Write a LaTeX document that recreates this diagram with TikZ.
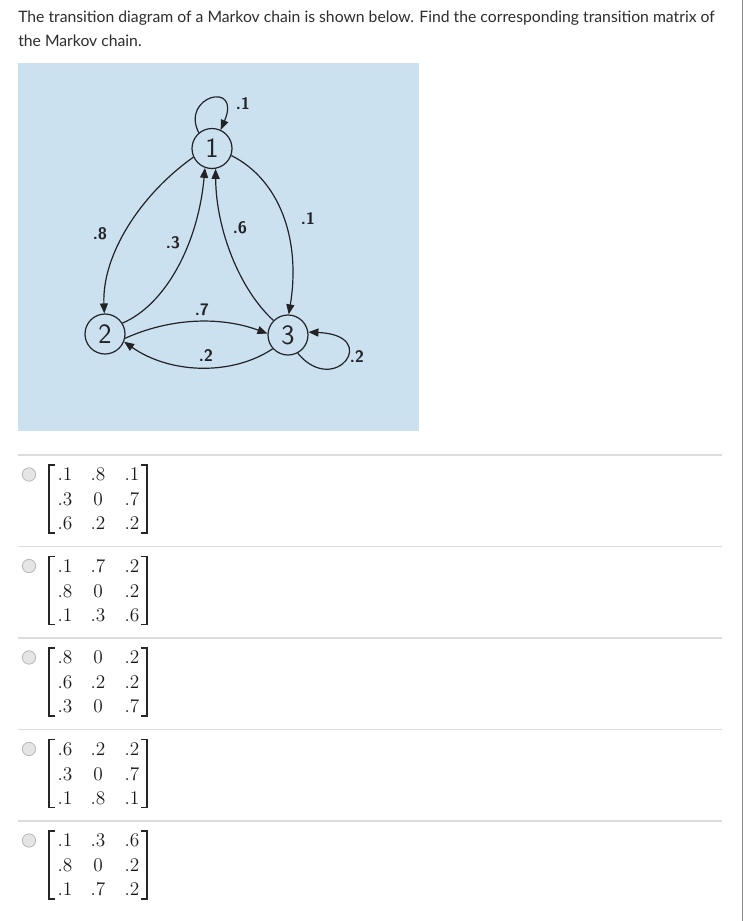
\documentclass[tikz,border=0pt]{standalone}
\usepackage{fontspec}
\newfontfamily\lato{Lato}
\usetikzlibrary{arrows.meta}
\definecolor{photo}{RGB}{203,225,240}
\definecolor{ink}{RGB}{35,35,38}
\definecolor{sepline}{RGB}{221,221,221}
\definecolor{titlecol}{RGB}{45,45,45}
\tikzset{
  state/.style={circle, draw=ink, line width=0.9pt, minimum size=30pt, inner sep=0pt, font=\sffamily\fontsize{21}{21}\selectfont, text=ink},
  edge/.style={draw=ink, line width=0.9pt, -{Triangle[length=7.5pt,width=6pt]}},
  plabel/.style={font=\sffamily\bfseries\fontsize{12.5}{12.5}\selectfont, text=ink, inner sep=0pt},
  radio/.style={circle, draw=black!28, line width=0.6pt, fill=black!10, minimum size=10pt, inner sep=0pt},
  entry/.style={font=\rmfamily\fontsize{14.5}{14.5}\selectfont, inner sep=0pt, text=black!90},
  brk/.style={line width=1.1pt, black!85},
  titletext/.style={anchor=base west, font=\lato\fontsize{11.8}{13}\selectfont, text=titlecol, inner sep=0pt}
}
\newcommand\optbox[2]{% id, separator y
  \draw[sepline, line width=1.1pt] (18,#2) -- (722,#2);
  \node[radio] (rad#1) at (29,#2+19.5) {};
  \draw[brk] (55,#2+10) -- (49,#2+10) -- (49,#2+78) -- (55,#2+78);
  \draw[brk] (141,#2+10) -- (147,#2+10) -- (147,#2+78) -- (141,#2+78);
}
\newcommand\optrow[5]{% id, y, a, b, c
  \node[entry] (e#1a) at (65,#2) {#3};
  \node[entry] (e#1b) at (98,#2) {#4};
  \node[entry] (e#1c) at (132,#2) {#5};
}
\begin{document}
\begin{tikzpicture}[x=0.75pt,y=-0.75pt]
\useasboundingbox (0,0) rectangle (746,921);
\fill[white] (0,0) rectangle (746,921);
\draw[black!45, line width=1.2pt] (742.5,0) -- (742.5,921);

% title
\node[titletext] (t1) at (18,22) {The transition diagram of a Markov chain is shown below. Find the corresponding transition matrix of};
\node[titletext] (t2) at (18,46) {the Markov chain.};

% photo
\fill[photo] (18,63) rectangle (419,431);

% states
\node[state] (n1) at (212,148.5) {1};
\node[state] (n2) at (105,334) {2};
\node[state] (n3) at (288,335) {3};

% loops
\draw[edge] (n1.130) .. controls (180,96) and (242,80) .. (n1.65);
\draw[edge] (n3.-62) .. controls (335,398) and (382,335) .. (n3.8);

% edges
\draw[edge] (n1.205) .. controls (140,195) and (102,255) .. (n2.92);
\draw[edge] (n2.32) .. controls (165,305) and (198,245) .. (n1.-110);
\draw[edge] (n3.135) .. controls (240,290) and (216,230) .. (n1.-80);
\draw[edge] (n1.-20) .. controls (280,180) and (301,240) .. (n3.88);
\draw[edge] (n2.-12) .. controls (170,318) and (220,316) .. (n3.176);
\draw[edge] (n3.-138) .. controls (232,376) and (170,374) .. (n2.-22);

% labels
\node[plabel] (l11) at (243,104) {.1};
\node[plabel] (l12) at (100,234) {.8};
\node[plabel] (l21) at (173,243) {.3};
\node[plabel] (l31) at (240,228) {.6};
\node[plabel] (l13) at (308,219) {.1};
\node[plabel] (l23) at (202,310) {.7};
\node[plabel] (l32) at (206,356) {.2};
\node[plabel] (l33) at (357,357) {.2};

% options
\optbox{1}{455}
\optrow{11}{474.5}{.1}{.8}{.1}
\optrow{12}{499.5}{.3}{0}{.7}
\optrow{13}{523.5}{.6}{.2}{.2}

\optbox{2}{546.5}
\optrow{21}{566}{.1}{.7}{.2}
\optrow{22}{591}{.8}{0}{.2}
\optrow{23}{615}{.1}{.3}{.6}

\optbox{3}{638}
\optrow{31}{657.5}{.8}{0}{.2}
\optrow{32}{682.5}{.6}{.2}{.2}
\optrow{33}{706.5}{.3}{0}{.7}

\optbox{4}{729.5}
\optrow{41}{749}{.6}{.2}{.2}
\optrow{42}{774}{.3}{0}{.7}
\optrow{43}{798}{.1}{.8}{.1}

\optbox{5}{821}
\optrow{51}{840.5}{.1}{.3}{.6}
\optrow{52}{865.5}{.8}{0}{.2}
\optrow{53}{889.5}{.1}{.7}{.2}
\end{tikzpicture}
\end{document}
